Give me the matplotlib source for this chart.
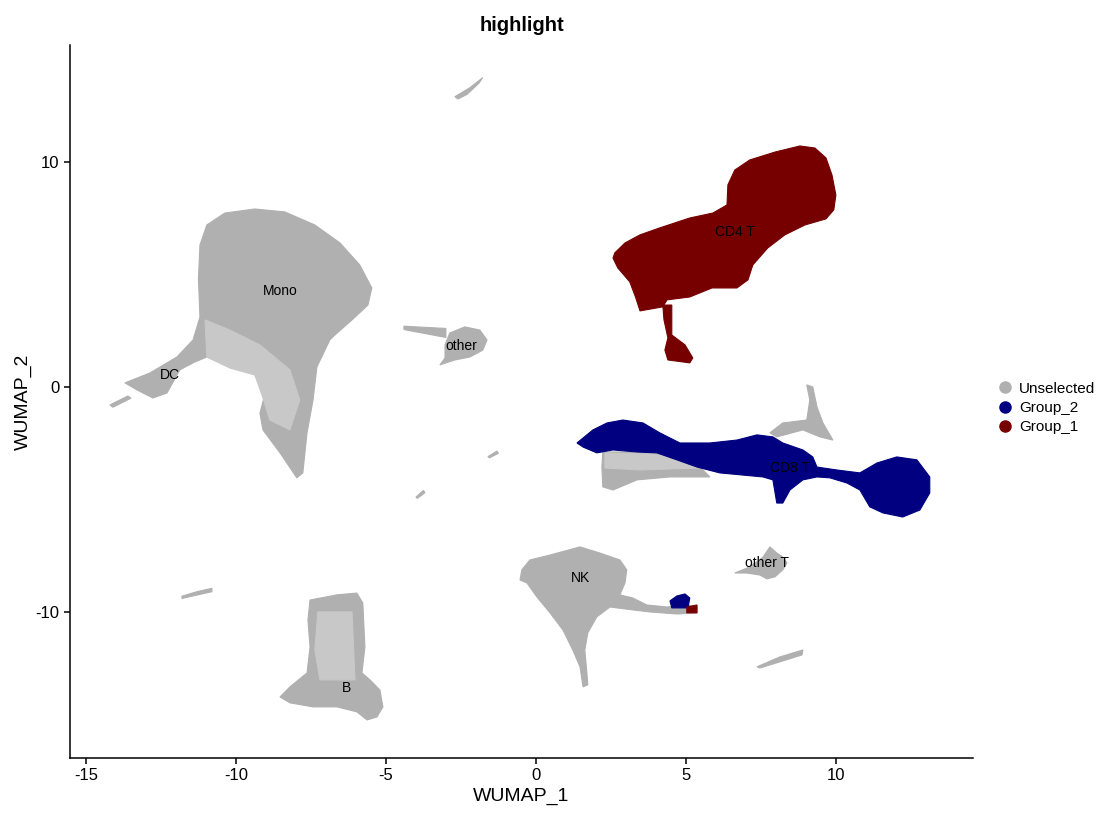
import matplotlib
matplotlib.use("Agg")
import matplotlib.pyplot as plt
from matplotlib.lines import Line2D

plt.rcParams['font.family'] = ['Liberation Sans', 'DejaVu Sans']

# cluster outlines, in WUMAP units (x, y)
mono = [(-11.20, 6.31), (-10.97, 7.20), (-10.37, 7.73), (-9.37, 7.91), (-8.37, 7.78),
        (-7.37, 7.20), (-6.53, 6.40), (-5.87, 5.42), (-5.47, 4.40), (-5.60, 3.64),
        (-6.13, 2.98), (-6.70, 2.31), (-6.87, 2.09),
        (-7.30, 0.89), (-7.43, -0.58), (-7.63, -2.04), (-7.77, -3.82), (-7.97, -4.04),
        (-8.53, -2.93), (-9.10, -1.91), (-9.20, -1.16), (-8.97, 0.00), (-9.30, 0.62),
        (-10.10, 0.89), (-10.97, 1.33), (-11.37, 1.11), (-11.87, 0.76), (-12.30, -0.27),
        (-12.77, -0.49), (-13.30, -0.13), (-13.70, 0.18), (-12.87, 0.62), (-11.97, 1.33),
        (-11.43, 2.09), (-11.20, 3.11), (-11.25, 4.80)]
mono_sparse = [(-11.03, 2.98), (-10.20, 2.53), (-9.20, 1.87), (-8.20, 0.76), (-7.87, -0.58),
               (-8.20, -1.91), (-8.87, -1.47), (-9.13, -0.36), (-9.37, 0.53), (-10.20, 0.84),
               (-10.97, 1.33)]
dc_streak = [(-14.2, -0.8), (-13.6, -0.4), (-13.5, -0.5), (-14.1, -0.9)]
top_speck = [(-2.7, 12.9), (-2.2, 13.3), (-1.77, 13.75), (-1.9, 13.5), (-2.3, 13.0), (-2.6, 12.8)]
other = [(-2.37, 2.67), (-1.87, 2.53), (-1.63, 2.09), (-1.77, 1.64), (-2.20, 1.33),
         (-2.70, 1.20), (-3.20, 0.98), (-3.03, 1.29), (-3.03, 1.87), (-2.87, 2.40)]
other_streak = [(-4.4, 2.7), (-3.0, 2.6), (-3.0, 2.2), (-4.4, 2.55)]
b_cells = [(-7.53, -9.47), (-6.63, -9.24), (-5.97, -9.16), (-5.77, -9.60), (-5.70, -11.56),
           (-5.80, -12.71), (-5.53, -13.02), (-5.20, -13.47), (-5.10, -14.22), (-5.30, -14.67),
           (-5.63, -14.80), (-5.97, -14.44), (-6.63, -14.22), (-7.43, -14.22), (-8.20, -14.04),
           (-8.53, -13.78), (-8.20, -13.33), (-7.63, -12.71), (-7.53, -11.56), (-7.60, -10.36)]
b_sparse = [(-7.27, -10.0), (-6.13, -10.0), (-6.03, -13.02), (-7.2, -13.02), (-7.37, -11.69)]
nk = [(-0.53, -8.58), (-0.47, -8.13), (-0.20, -7.69), (0.47, -7.47), (1.47, -7.11), (2.13, -7.38),
      (2.80, -7.69), (3.03, -8.13), (2.97, -8.71), (2.80, -9.24), (3.23, -9.38),
      (3.70, -9.69), (4.37, -9.78), (5.03, -9.69), (5.37, -9.78), (5.37, -10.04),
      (4.70, -10.09), (3.80, -10.00), (3.23, -9.91), (2.47, -9.78), (2.03, -10.22),
      (1.73, -10.93), (1.63, -11.69), (1.70, -12.71), (1.73, -13.24), (1.57, -13.33),
      (1.47, -12.44), (1.23, -11.69), (0.90, -10.80), (0.47, -10.04), (0.03, -9.33),
      (-0.30, -8.71)]
other_t = [(6.63, -8.27), (7.13, -8.00), (7.57, -7.56), (7.80, -7.11), (8.03, -7.38),
           (8.23, -7.56), (8.37, -7.82), (8.23, -8.13), (7.97, -8.44), (7.70, -8.53),
           (7.47, -8.36), (7.03, -8.27)]
low_streak = [(7.37, -12.44), (8.13, -12.0), (8.9, -11.69), (8.87, -11.91), (8.13, -12.22), (7.47, -12.49)]
left_speck = [(-11.8, -9.3), (-11.3, -9.1), (-10.8, -8.95), (-10.8, -9.1), (-11.3, -9.25), (-11.8, -9.4)]
mid_speck1 = [(-4.0, -4.9), (-3.75, -4.6), (-3.7, -4.7), (-3.95, -4.95)]
mid_speck2 = [(-1.6, -3.1), (-1.3, -2.85), (-1.25, -2.95), (-1.55, -3.15)]
cd8_gray_low = [(2.23, -2.89), (4.47, -2.89), (5.57, -3.69), (5.80, -4.00), (4.47, -4.00),
                (3.37, -4.13), (2.57, -4.58), (2.23, -4.44), (2.20, -3.56)]
cd8_sparse = [(2.3, -2.93), (4.8, -3.02), (5.47, -3.6), (3.47, -3.69), (2.3, -3.6)]
cd8_gray_up = [(7.80, -2.04), (8.23, -1.60), (9.03, -1.47), (9.13, -0.58), (9.03, 0.09),
               (9.23, 0.00), (9.37, -0.89), (9.57, -1.60), (9.90, -2.36), (9.47, -2.22),
               (8.90, -1.91), (8.03, -2.22)]

# Group_2 (CD8 T)
cd8 = [(1.37, -2.49), (1.90, -1.91), (2.37, -1.60), (2.90, -1.47), (3.57, -1.60),
       (4.13, -2.04), (4.80, -2.49), (5.80, -2.49), (6.70, -2.36), (7.37, -2.13),
       (7.90, -2.22), (8.23, -2.49), (8.90, -2.80), (9.23, -3.11), (9.37, -3.56),
       (10.03, -3.69), (10.80, -3.82), (11.37, -3.38), (12.03, -3.11), (12.70, -3.24),
       (13.13, -4.00), (13.13, -4.71), (12.80, -5.47), (12.23, -5.78), (11.57, -5.60),
       (11.13, -5.33), (10.80, -4.58), (10.37, -4.27), (9.80, -4.04), (9.37, -4.00),
       (8.90, -4.13), (8.47, -4.58), (8.23, -5.16), (8.03, -5.16), (7.90, -4.13),
       (7.57, -4.00), (6.13, -3.82), (5.37, -3.56), (4.70, -3.24), (4.03, -2.93),
       (3.37, -2.89), (2.57, -2.80), (2.03, -2.93), (1.57, -2.67)]
nk_tip_g2 = [(4.47, -9.51), (4.70, -9.29), (4.97, -9.20), (5.13, -9.38), (5.07, -9.82), (4.53, -9.82)]

# Group_1 (CD4 T)
cd4 = [(2.63, 5.96), (2.97, 6.40), (3.47, 6.76), (4.13, 7.07), (5.13, 7.51), (5.90, 7.73),
       (6.37, 8.09), (6.40, 8.98), (6.63, 9.64), (7.13, 10.09), (7.97, 10.44), (8.80, 10.71),
       (9.30, 10.62), (9.67, 10.18), (9.87, 9.42), (10.00, 8.53), (9.93, 7.87), (9.67, 7.47),
       (8.97, 7.20), (8.30, 6.76), (7.73, 6.18), (7.23, 5.42), (7.07, 4.76), (6.70, 4.40),
       (5.87, 4.40), (5.13, 4.00), (4.37, 3.87), (4.23, 3.56), (3.47, 3.38), (3.33, 3.96),
       (3.13, 4.67), (2.73, 5.29), (2.57, 5.73)]
cd4_stem = [(4.23, 3.64), (4.53, 3.64), (4.53, 2.31), (4.97, 1.87), (5.23, 1.29),
            (5.13, 1.07), (4.40, 1.20), (4.30, 1.64), (4.40, 2.18), (4.27, 2.98)]
nk_tip_g1 = [(5.03, -9.78), (5.37, -9.69), (5.37, -10.04), (5.03, -10.04)]

label_names = ['Mono', 'DC', 'other', 'CD4 T', 'CD8 T', 'B', 'NK', 'other T']
label_x = [-8.53, -12.2, -2.5, 6.63, 8.47, -6.33, 1.47, 7.70]
label_y = [4.27, 0.53, 1.82, 6.89, -3.6, -13.38, -8.49, -7.82]

legend_names = ['Unselected', 'Group_2', 'Group_1']
col_gray = '#B0B0B0'
col_sparse = '#C8C8C8'
col_g2 = '#000080'
col_g1 = '#760000'

unselected = [mono, dc_streak, top_speck, other, other_streak, b_cells, nk, other_t,
              low_streak, left_speck, mid_speck1, mid_speck2, cd8_gray_low, cd8_gray_up]
sparse = [mono_sparse, b_sparse, cd8_sparse]
group2 = [cd8, nk_tip_g2]
group1 = [cd4, cd4_stem, nk_tip_g1]

fig = plt.figure(figsize=(11.19, 8.22), dpi=100)
ax = fig.add_axes([0.0626, 0.0779, 0.8069, 0.8674])

for polys, c in [(unselected, col_gray), (sparse, col_sparse), (group2, col_g2), (group1, col_g1)]:
    for p in polys:
        xs = [v[0] for v in p]
        ys = [v[1] for v in p]
        ax.fill(xs, ys, color=c, linewidth=0.8, edgecolor=c)

for n, x, y in zip(label_names, label_x, label_y):
    ax.text(x, y, n, ha='center', va='center', fontsize=10, color='black')

ax.set_xlim(-15.53, 14.57)
ax.set_ylim(-16.49, 15.2)
ax.set_xticks([-15, -10, -5, 0, 5, 10])
ax.set_xticklabels(['-15', '-10', '-5', '0', '5', '10'])
ax.set_yticks([-10, 0, 10])
ax.set_yticklabels(['-10', '0', '10'])
for s in ['top', 'right']:
    ax.spines[s].set_visible(False)
for s in ['left', 'bottom']:
    ax.spines[s].set_linewidth(1.1)
ax.tick_params(labelsize=12, length=4, width=1.1, colors='black')
ax.set_xlabel('WUMAP_1', fontsize=14, labelpad=3)
ax.set_ylabel('WUMAP_2', fontsize=14, labelpad=3)
ax.set_title('highlight', fontsize=14.5, fontweight='bold', pad=10)

handles = [Line2D([], [], linestyle='none', marker='o', markersize=8, color=c)
           for c in [col_gray, col_g2, col_g1]]
fig.legend(handles, legend_names, loc='center left', bbox_to_anchor=(0.878, 0.5036),
           frameon=False, fontsize=11, handletextpad=0.3, labelspacing=0.35,
           handlelength=1.2)

fig.savefig('out.png', dpi=100)
